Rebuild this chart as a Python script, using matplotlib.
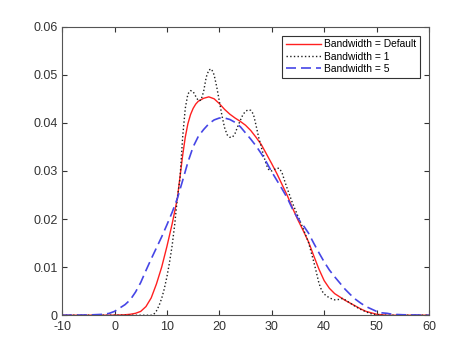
import matplotlib
matplotlib.use("Agg")
import matplotlib.pyplot as plt

plt.rcParams['font.family'] = ['Liberation Sans', 'DejaVu Sans']
plt.rcParams['axes.unicode_minus'] = False

# Bandwidth = Default
x_def = [-10, -5, 0, 2, 3, 4, 5, 6, 7, 8, 9, 10, 11, 12, 12.5, 13, 13.5, 14,
         14.5, 15, 15.5, 16, 17, 18, 19, 20, 21, 22, 23, 24, 25, 26, 27, 28,
         29, 30, 31, 32, 33, 34, 35, 36, 37, 38, 39, 40, 41, 42, 43, 44, 45,
         46, 47, 48, 49, 50, 51, 52, 60]
y_def = [0, 0, 0.00002, 0.0001, 0.0002, 0.0004, 0.0008, 0.0018, 0.0036,
         0.0065, 0.0100, 0.0143, 0.0190, 0.0243, 0.0288, 0.0332, 0.0370,
         0.0398, 0.0417, 0.0430, 0.0439, 0.0445, 0.0451, 0.0454, 0.0450,
         0.0440, 0.0428, 0.0418, 0.0410, 0.0403, 0.0395, 0.0384, 0.0370,
         0.0355, 0.0335, 0.0315, 0.0294, 0.0271, 0.0248, 0.0222, 0.0198,
         0.0176, 0.0153, 0.0124, 0.0096, 0.0072, 0.0056, 0.0045, 0.0038,
         0.0031, 0.0025, 0.0019, 0.0013, 0.0008, 0.0005, 0.0002, 0.0001, 0,
         0]

# Bandwidth = 1
x_bw1 = [-10, 6, 7, 7.5, 8, 8.5, 9, 9.5, 10, 10.5, 11, 11.5, 12, 12.5, 13,
         13.5, 14, 14.5, 15, 15.5, 16, 16.5, 17, 17.5, 18, 18.5, 19, 19.5, 20,
         20.5, 21, 21.5, 22, 22.5, 23, 23.5, 24, 24.5, 25, 25.5, 26, 26.5, 27,
         27.5, 28, 28.5, 29, 29.5, 30, 30.5, 31, 31.5, 32, 32.5, 33, 34, 35,
         36, 37, 38, 38.5, 39, 39.5, 40, 41, 42, 43, 43.5, 44, 45, 46, 47, 48,
         49, 50, 51, 60]
y_bw1 = [0, 0, 0, 0.0002, 0.0009, 0.0020, 0.0035, 0.0055, 0.0080, 0.0110,
         0.0145, 0.0190, 0.0245, 0.0285, 0.0370, 0.0430, 0.0460, 0.0467,
         0.0465, 0.0455, 0.0446, 0.0447, 0.0465, 0.0495, 0.0510, 0.0512,
         0.0500, 0.0475, 0.0445, 0.0415, 0.0390, 0.0375, 0.0370, 0.0370,
         0.0378, 0.0392, 0.0405, 0.0417, 0.0424, 0.0427, 0.0426, 0.0418,
         0.0395, 0.0370, 0.0350, 0.0330, 0.0312, 0.0301, 0.0300, 0.0303,
         0.0306, 0.0305, 0.0295, 0.0278, 0.0262, 0.0232, 0.0206, 0.0180,
         0.0152, 0.0112, 0.0090, 0.0067, 0.0052, 0.0044, 0.0036, 0.0032,
         0.0033, 0.0035, 0.0032, 0.0025, 0.0018, 0.0012, 0.0007, 0.0003,
         0.0001, 0, 0]

# Bandwidth = 5
x_bw5 = [-10, -5, -2, -1, 0, 1, 2, 3, 4, 5, 6, 7, 8, 9, 10, 11, 12, 13, 14,
         15, 16, 17, 18, 19, 20, 21, 22, 23, 24, 25, 26, 27, 28, 29, 30, 31,
         32, 33, 34, 35, 36, 37, 38, 39, 40, 41, 42, 43, 44, 45, 46, 47, 48,
         49, 50, 51, 52, 53, 55, 60]
y_bw5 = [0, 0.00005, 0.0002, 0.0004, 0.0008, 0.0015, 0.0022, 0.0032, 0.0048,
         0.0068, 0.0093, 0.0117, 0.0140, 0.0163, 0.0188, 0.0214, 0.0243,
         0.0280, 0.0318, 0.0350, 0.0372, 0.0386, 0.0398, 0.0406, 0.0410,
         0.0410, 0.0407, 0.0401, 0.0392, 0.0379, 0.0366, 0.0352, 0.0336,
         0.0318, 0.0298, 0.0280, 0.0262, 0.0243, 0.0220, 0.0201, 0.0187,
         0.0171, 0.0150, 0.0130, 0.0111, 0.0094, 0.0080, 0.0067, 0.0054,
         0.0043, 0.0033, 0.0025, 0.0018, 0.0013, 0.0008, 0.0005, 0.0004,
         0.0002, 0.0001, 0]

fig = plt.figure(figsize=(4.74, 3.55), dpi=100, facecolor='w')
ax = fig.add_axes([0.131, 0.112, 0.774, 0.813])

ax.plot(x_def, y_def, "-", color="#ff2020", linewidth=1.0,
        label="Bandwidth = Default")
ax.plot(x_bw1, y_bw1, ":", color="#202020", linewidth=1.0,
        label="Bandwidth = 1")
ax.plot(x_bw5, y_bw5, "--", color="#4646e6", linewidth=1.2,
        dashes=(6, 3), label="Bandwidth = 5")

ax.set_xlim(-10, 60)
ax.set_ylim(0, 0.06)
ax.set_xticks(range(-10, 61, 10))
ax.set_yticks([0, 0.01, 0.02, 0.03, 0.04, 0.05, 0.06])
ax.set_yticklabels(["0", "0.01", "0.02", "0.03", "0.04", "0.05", "0.06"])

ax.tick_params(direction="in", top=True, right=True, length=3.5,
               width=0.8, labelsize=9, colors="#333333")
ax.tick_params(axis="x", pad=4.5)
ax.tick_params(axis="y", pad=3)
for s in ax.spines.values():
    s.set_color("#555555")
    s.set_linewidth(0.8)

leg = ax.legend(loc="upper right", fontsize=7.4, fancybox=False,
                framealpha=1, edgecolor="#333333", handlelength=3.4,
                borderpad=0.35, labelspacing=0.22, handletextpad=0.3,
                borderaxespad=0.9)
leg.get_frame().set_linewidth(0.8)

fig.savefig("out.png", dpi=100, facecolor='w')
